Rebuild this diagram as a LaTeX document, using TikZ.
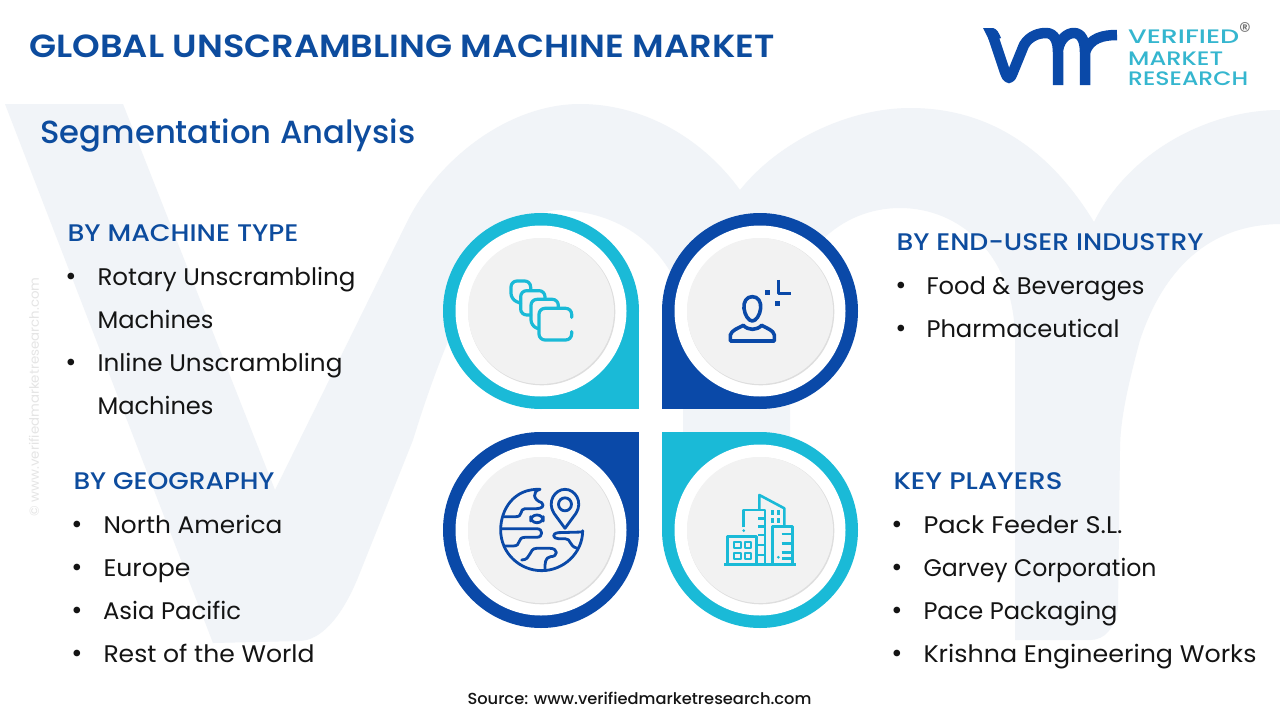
\documentclass[tikz,border=0pt]{standalone}
\usepackage{graphicx}
\usepackage{fontspec}
\setmainfont{Poppins}
\newfontfamily\medf{Poppins Medium}
\newfontfamily\semif{Poppins SemiBold}
\definecolor{wm}{HTML}{F1F4F8}
\definecolor{cy}{HTML}{1ABAD7}
\definecolor{bl}{HTML}{0A49A8}
\definecolor{tbl}{HTML}{0D4C9E}
\definecolor{logoc}{HTML}{35B6CF}
\definecolor{ink}{HTML}{141414}
\newcommand\txt[6]{\node[anchor=base west,inner sep=0pt,xshift=-0.7pt,text=#5] (#1) at (#2,#3) {#6};}
\newcommand\fw[2]{\resizebox{\dimexpr#1pt+1pt\relax}{\height}{#2}}
\newcommand\bodyf{\fontsize{24}{28}\selectfont}
\newcommand\headf{\fontsize{24}{28}\selectfont\medf}
\newcommand\bul[3]{\node[anchor=center,inner sep=0pt,text=ink] (#1) at (#2,#3+1.6) {\fontsize{27}{27}\selectfont •};}
\newcommand\drop[6]{% name,cx,cy,cornerx,cornery,colour
  \fill[#6] (#2,#3) circle[radius=98pt];
  \fill[#6] (#2,#3) rectangle (#4,#5);
  \fill[white] (#2,#3) circle[radius=85.5pt];
  \fill[black!13] (#2+0.8,#3+0.8) circle[radius=73.5pt];
  \fill[black!5] (#2,#3) circle[radius=73pt];
}
\begin{document}
\begin{tikzpicture}[x=1pt,y=-1pt,line join=round]
\useasboundingbox (0,0) rectangle (1280,720);
\fill[white] (0,0) rectangle (1280,720);
% watermark
\fill[wm] (5,104) -- (123,104) -- (275,490) -- (408,220)
  .. controls (440,157) and (510,104) .. (580,104)
  .. controls (640,104) and (700,135) .. (740,190)
  .. controls (780,140) and (850,108) .. (910,108)
  .. controls (990,108) and (1050,150) .. (1094,222)
  .. controls (1130,150) and (1210,110) .. (1280,110)
  -- (1280,224) .. controls (1200,225) and (1160,280) .. (1140,340)
  .. controls (1128,385) and (1120,420) .. (1120,450)
  -- (1118,607) .. controls (1115,628) and (1105,640) .. (1090,640)
  -- (1015,640) -- (1015,340)
  .. controls (1015,255) and (960,208) .. (900,208)
  .. controls (840,208) and (790,255) .. (790,320)
  -- (790,560) -- (683,560) -- (683,300)
  .. controls (665,245) and (620,212) .. (560,210)
  .. controls (500,210) and (450,320) .. (413,440)
  -- (357,580) .. controls (340,620) and (320,640) .. (300,641)
  -- (213,643) -- cycle;
% side text
\node[rotate=90,anchor=center,inner sep=0pt,text=black!10] (side) at (34,397) {\fw{238}{\fontsize{13}{15}\selectfont © www.verifiedmarketresearch.com}};
% titles
\txt{title}{30}{57.5}{}{tbl}{\fw{744}{\fontsize{32}{36}\selectfont\semif GLOBAL UNSCRAMBLING MACHINE MARKET}}
\txt{sub}{41}{143}{}{tbl}{\fw{374}{\fontsize{32}{36}\selectfont\medf Segmentation Analysis}}
% left top
\txt{h1}{68}{241}{}{tbl}{\fw{230}{\headf BY MACHINE TYPE}}
\bul{b1a}{71}{278}\txt{t1a}{98}{285}{}{ink}{\fw{257}{\bodyf Rotary Unscrambling}}
\txt{t1b}{98}{328}{}{ink}{\fw{115}{\bodyf Machines}}
\bul{b1c}{71}{364}\txt{t1c}{98}{371}{}{ink}{\fw{244}{\bodyf Inline Unscrambling}}
\txt{t1d}{98}{414}{}{ink}{\fw{115}{\bodyf Machines}}
% right top
\txt{h2}{897}{250}{}{tbl}{\fw{306}{\headf BY END-USER INDUSTRY}}
\bul{b2a}{901}{287}\txt{t2a}{927}{294}{}{ink}{\fw{217}{\bodyf Food \& Beverages}}
\bul{b2b}{901}{330}\txt{t2b}{927}{337}{}{ink}{\fw{192}{\bodyf Pharmaceutical}}
% left bottom
\txt{h3}{74}{489}{}{tbl}{\fw{200}{\headf BY GEOGRAPHY}}
\bul{b3a}{77}{526}\txt{t3a}{104}{533}{}{ink}{\fw{178}{\bodyf North America}}
\bul{b3b}{77}{569}\txt{t3b}{104}{576}{}{ink}{\fw{86}{\bodyf Europe}}
\bul{b3c}{77}{612}\txt{t3c}{103.5}{619}{}{ink}{\fw{137}{\bodyf Asia Pacific}}
\bul{b3d}{77}{655}\txt{t3d}{104}{662}{}{ink}{\fw{210}{\bodyf Rest of the World}}
% right bottom
\txt{h4}{894}{489}{}{tbl}{\fw{168}{\headf KEY PLAYERS}}
\bul{b4a}{897}{526}\txt{t4a}{924}{533}{}{ink}{\fw{198}{\bodyf Pack Feeder S.L.}}
\bul{b4b}{897}{569}\txt{t4b}{924}{576}{}{ink}{\fw{232}{\bodyf Garvey Corporation}}
\bul{b4c}{897}{612}\txt{t4c}{924}{619}{}{ink}{\fw{193}{\bodyf Pace Packaging}}
\bul{b4d}{897}{655}\txt{t4d}{924}{662}{}{ink}{\fw{332}{\bodyf Krishna Engineering Works}}
% source
\txt{src}{468}{704}{}{ink}{\fw{343}{\fontsize{16}{18}\selectfont\medf Source: www.verifiedmarketresearch.com}}
% drops
\drop{d1}{541}{311}{639}{409}{cy}
\drop{d2}{760}{311}{662}{409}{bl}
\drop{d3}{541}{530}{639}{432}{bl}
\drop{d4}{760}{530}{662}{432}{cy}
% icon 1
\begin{scope}[shift={(430,200)},x=0.3333pt,y=-0.3333pt,draw=cy,line width=3.2pt,rounded corners=6pt,line cap=round]
\draw (425,352)--(425,325)--(327,325)--(327,420)--(425,420)--(425,395);
\draw (385,323)--(385,298)--(303,298)--(303,378)--(325,386);
\draw (345,296)--(345,272)--(272,272)--(272,345)--(302,345);
\draw (302,270)--(302,243)--(243,243)--(243,298)--(272,310);
\end{scope}
% icon 2
\begin{scope}[shift={(650,200)},x=0.3333pt,y=-0.3333pt,draw=bl,fill=bl,line width=3.6pt]
\draw (307,290) .. controls (290,290) and (280,305) .. (282,325) .. controls (284,345) and (296,363) .. (307,363) .. controls (318,363) and (330,345) .. (332,325) .. controls (334,305) and (324,290) .. (307,290) -- cycle;
\draw (241,423)--(241,405) .. controls (245,390) and (265,385) .. (280,376) .. controls (295,392) and (320,392) .. (335,376) .. controls (350,385) and (370,390) .. (373,405) -- (373,423) -- cycle;
\draw (385,240)--(385,280)--(423,280);
\fill[draw=none] (346,270) rectangle (360,284);
\fill[draw=none] (376,303) rectangle (391,318);
\end{scope}
% icon 3
\begin{scope}[shift={(430,420)},x=0.3333pt,y=-0.3333pt,draw=bl,line width=2.8pt,line cap=round]
\draw (330,208) .. controls (250,205) and (212,270) .. (212,330) .. controls (212,400) and (270,452) .. (335,452) .. controls (400,452) and (458,400) .. (458,332);
\draw (330,208) .. controls (305,215) and (310,240) .. (335,248) .. controls (345,258) and (335,266) .. (320,266) -- (285,266) .. controls (268,266) and (280,290) .. (258,290) -- (222,290);
\draw[rounded corners=6pt] (302,285) rectangle (340,308);
\draw (214,326) -- (320,326) .. controls (340,326) and (340,352) .. (320,352) -- (285,352) .. controls (260,352) and (275,378) .. (250,378) -- (226,378);
\draw (458,336) -- (385,338) .. controls (365,340) and (368,356) .. (385,356) -- (405,356) .. controls (425,356) and (415,378) .. (442,385);
\draw (275,420) .. controls (305,420) and (295,385) .. (320,385) -- (360,385) .. controls (385,385) and (385,410) .. (362,410) .. controls (345,412) and (345,430) .. (345,446);
\draw (405,325) -- (372,280) .. controls (350,245) and (375,208) .. (405,208) .. controls (435,208) and (460,245) .. (438,280) -- cycle;
\draw (405,253) circle[radius=6.5pt];
\end{scope}
% icon 4
\begin{scope}[shift={(650,420)},x=0.3333pt,y=-0.3333pt,draw=cy,line width=2.6pt]
\draw[line width=3pt] (222,435)--(437,435);
\draw (232,435)--(232,350)--(320,350)--(320,435);
\foreach \a/\b in {252/367,284/367,252/400,284/400} \draw[line width=2.2pt] (\a,\b) rectangle (\a+20,\b+18);
\draw (281,322)--(281,270)--(345,270)--(345,435);
\fill[cy,draw=none] (281,332) circle[radius=1.5pt];
\foreach \b in {296,320,345,375,405} \draw (325,\b)--(345,\b);
\draw (328,270)--(328,225)--(403,265)--(403,320);
\foreach \a/\b in {362/270,381/270,362/295,381/295} \fill[cy,draw=none] (\a,\b) rectangle (\a+9,\b+14);
\draw (368,435)--(368,320)--(427,320)--(427,435);
\foreach \b in {342,370,397} \draw (395,\b)--(427,\b);
\fill[cy,draw=none] (385,412) circle[radius=1.5pt];
\draw (397,415)--(427,415);
\end{scope}
% logo
\fill[bl] (983,28) -- (993,28) .. controls (997,29) and (999,33) .. (1001,38) -- (990,42) -- cycle;
\begin{scope}[draw=bl,line width=10.5pt]
\draw (993,36) -- (1005,72) .. controls (1008,80) and (1010,80) .. (1013,72) -- (1024,45) .. controls (1030,35) and (1040,33) .. (1046,33) .. controls (1055,33) and (1058,42) .. (1058,52) -- (1058,85);
\draw (1058,50) .. controls (1060,38) and (1068,33) .. (1074,33) .. controls (1082,33) and (1085,42) .. (1085,52) -- (1085,85);
\draw (1085,52) .. controls (1090,38) and (1103,35) .. (1117,35);
\end{scope}
\node[anchor=base west,inner sep=0pt,text=logoc] (lg1) at (1128,43.5) {\fw{110}{\fontsize{19.5}{22}\selectfont\medf VERIFIED}};
\node[anchor=base west,inner sep=0pt,text=logoc] (lg2) at (1128,65) {\fw{94}{\fontsize{19.5}{22}\selectfont\medf MARKET}};
\node[anchor=base west,inner sep=0pt,text=logoc] (lg3) at (1128,85) {\fw{119}{\fontsize{19.5}{22}\selectfont\medf RESEARCH}};
\node[anchor=center,inner sep=0pt,text=black!55] (lg4) at (1245,31) {\fontsize{24}{24}\selectfont ®};
\end{tikzpicture}
\end{document}
